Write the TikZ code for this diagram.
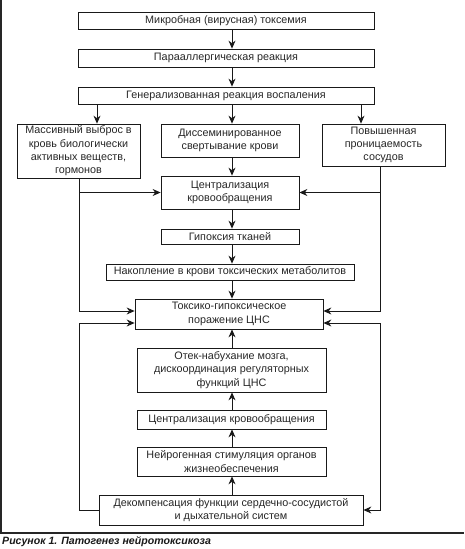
\documentclass[tikz,border=0pt]{standalone}
\usepackage{fontspec}
\setmainfont{Liberation Sans}
\usetikzlibrary{arrows.meta}
\begin{document}
\begin{tikzpicture}[x=1pt,y=1pt,
    box/.style={draw=black!90, line width=0.8pt, align=center, inner sep=0pt,
      font=\fontsize{10.8}{13.3}\selectfont, text=black!85},
    arr/.style={draw=black!90, line width=0.8pt, -{Stealth[length=8pt,width=7pt]}},
    biarr/.style={draw=black!90, line width=0.8pt, {Stealth[length=8pt,width=7pt]}-{Stealth[length=8pt,width=7pt]}},
    caption/.style={anchor=west, inner sep=0pt, font=\fontsize{10.6}{12}\bfseries\itshape\selectfont, text=black!90}]
    \useasboundingbox (0,0) rectangle (464,-549);
    \draw[line width=2pt, black!85] (1,0) -- (1,-533);
    \draw[line width=1.4pt, black!85] (0,-533) -- (464,-533);

    \node[box, minimum width=296pt, minimum height=17pt] (toxemia) at (226,-20.5) {Микробная (вирусная) токсемия};
    \node[box, minimum width=296pt, minimum height=18pt] (parall) at (226,-58) {Парааллергическая реакция};
    \node[box, minimum width=296pt, minimum height=17pt] (inflam) at (226,-95.5) {Генерализованная реакция воспаления};
    \node[box, minimum width=123pt, minimum height=54pt] (release) at (78.5,-151) {Массивный выброс в\\кровь биологически\\активных веществ,\\гормонов};
    \node[box, minimum width=138pt, minimum height=33pt] (dic) at (230,-140.5) {Диссеминированное\\свертывание крови};
    \node[box, minimum width=123pt, minimum height=42pt] (perm) at (383.5,-145) {Повышенная\\проницаемость\\сосудов};
    \node[box, minimum width=138pt, minimum height=33pt] (central) at (230,-192.5) {Централизация\\кровообращения};
    \node[box, minimum width=138pt, minimum height=15pt] (hypox) at (230,-236.5) {Гипоксия тканей};
    \node[box, minimum width=248pt, minimum height=16pt] (metab) at (230,-272) {Накопление в крови токсических метаболитов};
    \node[box, minimum width=188pt, minimum height=30pt] (cns) at (229,-314) {Токсико-гипоксическое\\поражение ЦНС};
    \node[box, minimum width=189pt, minimum height=44pt] (edema) at (231.5,-370) {Отек-набухание мозга,\\дискоординация регуляторных\\функций ЦНС};
    \node[box, minimum width=189pt, minimum height=19pt] (centraltwo) at (231.5,-419.5) {Централизация кровообращения};
    \node[box, minimum width=189pt, minimum height=29pt] (stim) at (231.5,-461.5) {Нейрогенная стимуляция органов\\жизнеобеспечения};
    \node[box, minimum width=264pt, minimum height=30pt] (decomp) at (231,-510) {Декомпенсация функции сердечно-сосудистой\\и дыхательной систем};
    \node[caption] (cap) at (2,-541.5) {Рисунок 1. Патогенез нейротоксикоза};

    \coordinate (spine) at (232,0);
    \coordinate (lefttop) at (97,0);
    \coordinate (righttop) at (361,0);
    \coordinate (leftline) at (79,-323);
    \coordinate (rightline) at (380,-323);

    \draw[arr] (toxemia.south -| spine) -- (parall.north -| spine);
    \draw[arr] (parall.south -| spine) -- (inflam.north -| spine);
    \draw[arr] (inflam.south -| lefttop) -- (release.north -| lefttop);
    \draw[arr] (inflam.south -| spine) -- (dic.north -| spine);
    \draw[arr] (inflam.south -| righttop) -- (perm.north -| righttop);
    \draw[arr] (dic.south -| spine) -- (central.north -| spine);
    \draw[arr] (release.south -| leftline) |- (central.west);
    \draw[arr] (release.south -| leftline) |- ([yshift=3pt]cns.west);
    \draw[arr] (perm.south -| rightline) |- (central.east);
    \draw[arr] (perm.south -| rightline) |- ([yshift=3pt]cns.east);
    \draw[arr] (central.south -| spine) -- (hypox.north -| spine);
    \draw[arr] (hypox.south -| spine) -- (metab.north -| spine);
    \draw[arr] (metab.south -| spine) -- (cns.north -| spine);
    \draw[arr] (edema.north -| spine) -- (cns.south -| spine);
    \draw[arr] (centraltwo.north -| spine) -- (edema.south -| spine);
    \draw[arr] (stim.north -| spine) -- (centraltwo.south -| spine);
    \draw[arr] (decomp.north -| spine) -- (stim.south -| spine);
    \draw[arr] (decomp.west) -| (leftline) -- ([yshift=-9pt]cns.west);
    \draw[biarr] ([yshift=-9pt]cns.east) -- (rightline) |- (decomp.east);
\end{tikzpicture}
\end{document}
